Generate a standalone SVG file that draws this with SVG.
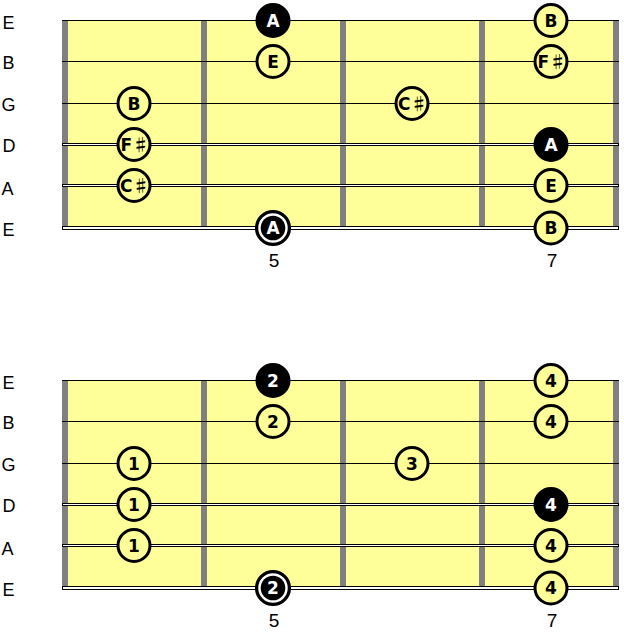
<svg xmlns="http://www.w3.org/2000/svg" width="624" height="633" viewBox="0 0 624 633">
<style>
.board{fill:#ffff99}
.fret{fill:#808080}
.thin{stroke:#000;stroke-width:1;fill:none}
.wound{fill:#fff;stroke:#000;stroke-width:1}
.lbl{font-family:"Liberation Sans",Arial,sans-serif;font-size:18px;fill:#000}
.num{font-family:"Liberation Sans",Arial,sans-serif;font-size:19px;fill:#000;text-anchor:middle}
.dot{fill:#ffff99;stroke:#000;stroke-width:3}
.blk{fill:#000;stroke:#000;stroke-width:3}
.ring{fill:#fff;stroke:#000;stroke-width:3.3}
.core{fill:#000}
.t{font-family:"DejaVu Sans","Liberation Sans",sans-serif;font-weight:bold;font-size:17px;text-anchor:middle;fill:#000}
.tw{font-family:"DejaVu Sans","Liberation Sans",sans-serif;font-weight:bold;font-size:17px;text-anchor:middle;fill:#fff}
.ts{font-family:"DejaVu Sans","Liberation Sans",sans-serif;font-weight:bold;font-size:17px;text-anchor:start;fill:#000}
.sh{font-family:"Noto Sans CJK JP","DejaVu Sans",sans-serif;font-size:17px;font-weight:bold}
</style>
<defs>
<g id="board">
<rect class="board" x="62" y="20" width="557" height="207"/>
<rect class="fret" x="62" y="20" width="6" height="206"/>
<rect class="fret" x="201" y="20" width="6" height="206"/>
<rect class="fret" x="340" y="20" width="6" height="206"/>
<rect class="fret" x="479" y="20" width="6" height="206"/>
<rect class="fret" x="613" y="20" width="6" height="206"/>
<line class="thin" x1="62" y1="20.5" x2="619" y2="20.5"/>
<line class="thin" x1="62" y1="61.5" x2="619" y2="61.5"/>
<line class="thin" x1="62" y1="103.5" x2="619" y2="103.5"/>
<rect class="wound" x="62.5" y="143.5" width="556" height="2"/>
<rect class="wound" x="62.5" y="184.5" width="556" height="2"/>
<rect class="wound" x="62.5" y="226.5" width="556" height="3"/>
<text class="lbl" x="2.5" y="28.5">E</text>
<text class="lbl" x="2.5" y="68.5">B</text>
<text class="lbl" x="1.5" y="111">G</text>
<text class="lbl" x="2.5" y="152">D</text>
<text class="lbl" x="1.5" y="195">A</text>
<text class="lbl" x="2.5" y="235.5">E</text>
<text class="num" x="274" y="267">5</text>
<text class="num" x="552" y="267">7</text>
</g>
</defs>

<g id="diagram-notes">
<use href="#board"/>
<g id="n-e1-5"><circle class="blk" cx="273" cy="20.5" r="16"/><text class="tw" x="273" y="26.5">A</text></g>
<g id="n-b-5"><circle class="dot" cx="273" cy="61.5" r="16"/><text class="t" x="273" y="67.5">E</text></g>
<g id="n-e6-5"><circle class="ring" cx="273" cy="228" r="16.4"/><circle class="core" cx="273" cy="228" r="12.3"/><text class="tw" x="273" y="234">A</text></g>
<g id="n-g-4"><circle class="dot" cx="134" cy="103.5" r="16"/><text class="t" x="134" y="109.5">B</text></g>
<g id="n-d-4"><circle class="dot" cx="134" cy="144.5" r="16"/><text class="ts" x="120.5" y="150.5">F<tspan class="sh">♯</tspan></text></g>
<g id="n-a-4"><circle class="dot" cx="134" cy="185.5" r="16"/><text class="ts" x="120" y="191.5">C<tspan class="sh">♯</tspan></text></g>
<g id="n-g-6"><circle class="dot" cx="412" cy="103.5" r="16"/><text class="ts" x="398" y="109.5">C<tspan class="sh">♯</tspan></text></g>
<g id="n-e1-7"><circle class="dot" cx="551" cy="20.5" r="16"/><text class="t" x="551" y="26.5">B</text></g>
<g id="n-b-7"><circle class="dot" cx="551" cy="61.5" r="16"/><text class="ts" x="537.5" y="67.5">F<tspan class="sh">♯</tspan></text></g>
<g id="n-d-7"><circle class="blk" cx="551" cy="144.5" r="16"/><text class="tw" x="551" y="150.5">A</text></g>
<g id="n-a-7"><circle class="dot" cx="551" cy="185.5" r="16"/><text class="t" x="551" y="191.5">E</text></g>
<g id="n-e6-7"><circle class="dot" cx="551" cy="228" r="16"/><text class="t" x="551" y="234">B</text></g>
</g>

<g id="diagram-fingers" transform="translate(0,360)">
<use href="#board"/>
<g id="f-e1-5"><circle class="blk" cx="273" cy="20.5" r="16"/><text class="tw" x="273" y="26.5">2</text></g>
<g id="f-b-5"><circle class="dot" cx="273" cy="61.5" r="16"/><text class="t" x="273" y="67.5">2</text></g>
<g id="f-e6-5"><circle class="ring" cx="273" cy="228" r="16.4"/><circle class="core" cx="273" cy="228" r="12.3"/><text class="tw" x="273" y="234">2</text></g>
<g id="f-g-4"><circle class="dot" cx="134" cy="103.5" r="16"/><text class="t" x="134" y="109.5">1</text></g>
<g id="f-d-4"><circle class="dot" cx="134" cy="144.5" r="16"/><text class="t" x="134" y="150.5">1</text></g>
<g id="f-a-4"><circle class="dot" cx="134" cy="185.5" r="16"/><text class="t" x="134" y="191.5">1</text></g>
<g id="f-g-6"><circle class="dot" cx="412" cy="103.5" r="16"/><text class="t" x="412" y="109.5">3</text></g>
<g id="f-e1-7"><circle class="dot" cx="551" cy="20.5" r="16"/><text class="t" x="551" y="26.5">4</text></g>
<g id="f-b-7"><circle class="dot" cx="551" cy="61.5" r="16"/><text class="t" x="551" y="67.5">4</text></g>
<g id="f-d-7"><circle class="blk" cx="551" cy="144.5" r="16"/><text class="tw" x="551" y="150.5">4</text></g>
<g id="f-a-7"><circle class="dot" cx="551" cy="185.5" r="16"/><text class="t" x="551" y="191.5">4</text></g>
<g id="f-e6-7"><circle class="dot" cx="551" cy="228" r="16"/><text class="t" x="551" y="234">4</text></g>
</g>
</svg>
